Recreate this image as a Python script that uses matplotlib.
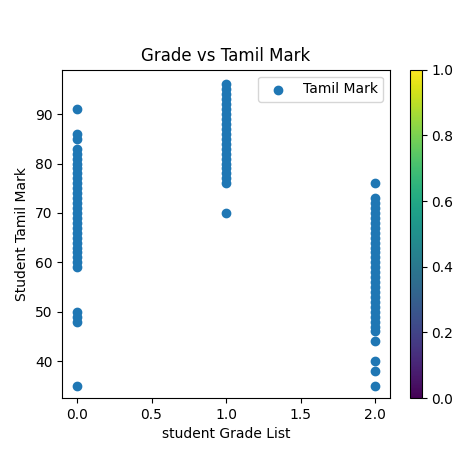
import matplotlib
matplotlib.use("Agg")
import matplotlib.pyplot as plt
import numpy as np

# marks, per grade
grade0_marks = [35, 48, 49, 50, 59, 60, 61, 62, 63, 64, 65, 66, 67, 68, 69, 70, 71, 72,
                73, 74, 75, 76, 77, 78, 79, 80, 81, 82, 83, 85, 86, 91]
grade1_marks = [70, 76, 77, 78, 79, 80, 81, 82, 83, 84, 85, 86, 87, 88, 89, 90, 91,
                92, 93, 94, 95, 96]
grade2_marks = [35, 38, 40, 44, 46, 47, 48, 49, 50, 51, 52, 53, 54, 55, 56, 57, 58, 59,
                60, 61, 62, 63, 64, 65, 66, 67, 68, 69, 70, 71, 72, 73, 76]

grades = [0] * len(grade0_marks) + [1] * len(grade1_marks) + [2] * len(grade2_marks)
marks = grade0_marks + grade1_marks + grade2_marks

fig = plt.figure(figsize=(4.74, 4.74), dpi=100)
ax = fig.add_axes([0.131, 0.16, 0.692, 0.693])
cax = fig.add_axes([0.865, 0.16, 0.025, 0.693])

sc = ax.scatter(grades, marks, color="#1f77b4", label="Tamil Mark")
ax.set_title("Grade vs Tamil Mark")
ax.set_xlabel("student Grade List")
ax.set_ylabel("Student Tamil Mark")
ax.set_ylim(32.5, 99)
ax.legend(loc="upper right")

sm = plt.cm.ScalarMappable(cmap="viridis", norm=plt.Normalize(0, 1))
fig.colorbar(sm, cax=cax)

fig.savefig("out.png", dpi=100)
